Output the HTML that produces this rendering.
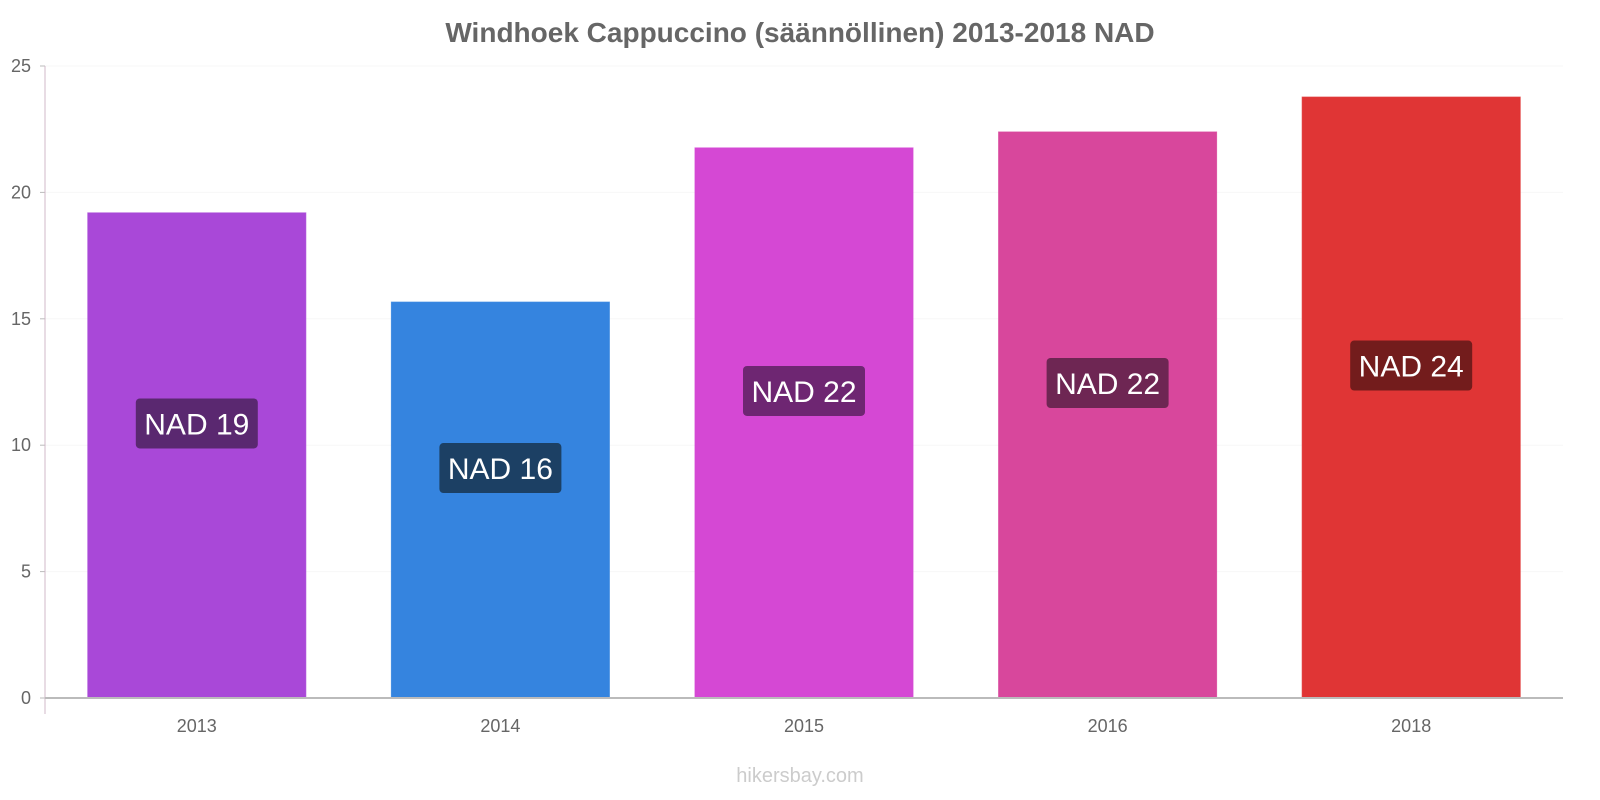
<!DOCTYPE html>
<html><head><meta charset="utf-8"><style>
html,body{margin:0;padding:0;background:#fff;font-family:"Liberation Sans",sans-serif;overflow:hidden;width:1600px;height:800px}
svg{display:block}
</style></head><body>
<svg width="1600" height="800" xmlns="http://www.w3.org/2000/svg">
<text x="800" y="42" text-anchor="middle" font-size="28" font-weight="bold" fill="#666">Windhoek Cappuccino (säännöllinen) 2013-2018 NAD</text>
<g id="grid"></g><g id="bars"></g><g id="axes"></g>
<text x="800" y="782" text-anchor="middle" font-size="20" fill="#ccc">hikersbay.com</text>
</svg>
<script>
const categories=["2013","2014","2015","2016","2018"];
const values=[19.19,15.66,21.76,22.39,23.77];
const labels=["NAD 19","NAD 16","NAD 22","NAD 22","NAD 24"];
const yTicks=[0,5,10,15,20,25];
const colors=["#a948d8","#3584df","#d548d4","#d8479c","#e03535"];
const labelBg=["#5a2870","#1c4064","#6e2672","#6e2653","#731c1c"];
const NS="http://www.w3.org/2000/svg";
const x0=45,x1=1563,yb=698,yt=66,ymax=25;
const y=v=>yb-(v/ymax)*(yb-yt);
const bw=(x1-x0)/categories.length;
function mk(t,a,p){const e=document.createElementNS(NS,t);for(const k in a)e.setAttribute(k,a[k]);p.appendChild(e);return e;}
const grid=document.getElementById('grid'),bars=document.getElementById('bars'),axes=document.getElementById('axes');
yTicks.forEach(t=>{
 const l=mk('line',{x1:x0,x2:x1,y1:y(t),y2:y(t),stroke:"#f7f7f7"},grid);
 
 
 const tk=mk('line',{x1:x0-5,x2:x0,y1:y(t),y2:y(t),stroke:"#bbb"},axes);
 
 
 const tx=mk('text',{x:x0-14,y:y(t)+6,"text-anchor":"end","font-size":18,fill:"#666"},axes);
 tx.textContent=t;
 
 
});
values.forEach((v,i)=>{
 const cx=x0+bw*(i+0.5),w=218;
 const r=mk('rect',{x:cx-w/2,y:y(v),width:w,height:yb-y(v),fill:colors[i],stroke:colors[i],"stroke-opacity":0.8},bars);
 
 
 const ly=(y(v)+yb)/2-32;
 const lb=mk('rect',{x:cx-61,y:ly-25,width:122,height:50,rx:4,fill:labelBg[i]},bars);
 
 
 const lt=mk('text',{x:cx,y:ly+11,"text-anchor":"middle","font-size":30,fill:"#fff"},bars);
 lt.textContent=labels[i];
 
 
 const xt=mk('text',{x:cx,y:732,"text-anchor":"middle","font-size":18,fill:"#666"},axes);
 xt.textContent=categories[i];
 
 
});
const ya=mk('line',{x1:x0,x2:x0,y1:yt,y2:714,stroke:"#d0b8c8"},axes);


const xa=mk('line',{x1:x0,x2:x1,y1:yb,y2:yb,stroke:"#bbb","stroke-width":2},axes);


</script>
</body></html>
